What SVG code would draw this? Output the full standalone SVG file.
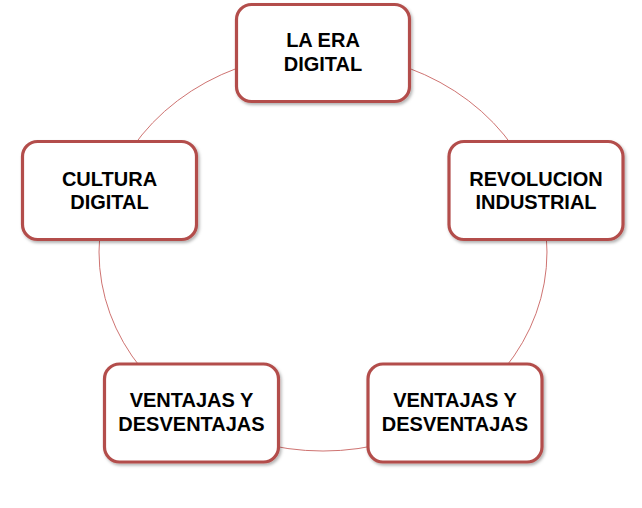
<svg xmlns="http://www.w3.org/2000/svg" width="642" height="508" viewBox="0 0 642 508">
<defs>
<style>
.box{fill:#ffffff;stroke:#b34e4b;stroke-width:3.2;filter:url(#sh)}
.lbl{font-family:"Liberation Sans",Arial,sans-serif;font-weight:bold;font-size:20px;fill:#000000;text-anchor:middle}
.arc{fill:none;stroke:#c65a58;stroke-width:1;stroke-opacity:0.85}
</style>
<filter id="sh" x="-10%" y="-10%" width="125%" height="130%">
<feDropShadow dx="1.5" dy="2" stdDeviation="1.5" flood-color="#000000" flood-opacity="0.3"/>
</filter>
</defs>
<rect width="642" height="508" fill="#ffffff"/>
<g id="connectors">
<path class="arc" d="M323 53 A224 199 0 0 1 536 190.5"/>
<path class="arc" d="M536 190.5 A224 199 0 0 1 454.7 413"/>
<path class="arc" d="M454.7 413 A224 199 0 0 1 191.3 413"/>
<path class="arc" d="M191.3 413 A224 199 0 0 1 110 190.5"/>
<path class="arc" d="M110 190.5 A224 199 0 0 1 323 53"/>
</g>
<g id="node-era-digital">
<rect class="box" x="236.5" y="4.5" width="173" height="97" rx="15"/>
<text class="lbl" x="323" y="47">LA ERA</text>
<text class="lbl" x="323" y="71">DIGITAL</text>
</g>
<g id="node-revolucion">
<rect class="box" x="449" y="141.5" width="174" height="98" rx="15"/>
<text class="lbl" x="536" y="186">REVOLUCION</text>
<text class="lbl" x="536" y="209">INDUSTRIAL</text>
</g>
<g id="node-ventajas-right">
<rect class="box" x="368" y="364" width="174" height="98" rx="15"/>
<text class="lbl" x="455" y="407">VENTAJAS Y</text>
<text class="lbl" x="455" y="431">DESVENTAJAS</text>
</g>
<g id="node-ventajas-left">
<rect class="box" x="104.5" y="364" width="174" height="98" rx="15"/>
<text class="lbl" x="191.5" y="407">VENTAJAS Y</text>
<text class="lbl" x="191.5" y="431">DESVENTAJAS</text>
</g>
<g id="node-cultura">
<rect class="box" x="22.5" y="141.5" width="174" height="98" rx="15"/>
<text class="lbl" x="109.5" y="186">CULTURA</text>
<text class="lbl" x="109.5" y="209">DIGITAL</text>
</g>
</svg>
